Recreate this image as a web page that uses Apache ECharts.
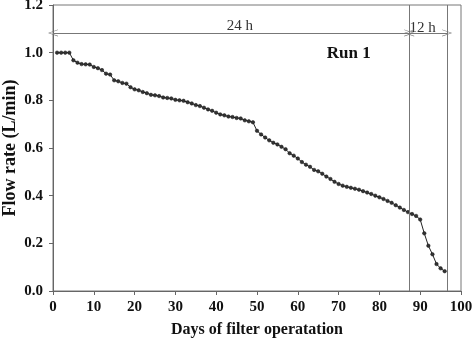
<!DOCTYPE html>
<html>
<head>
<meta charset="utf-8">
<script src="https://cdn.jsdelivr.net/npm/echarts@6/dist/echarts.min.js"></script>
<style>html,body{margin:0;padding:0;background:#fff}#c{width:474px;height:357px}</style>
</head>
<body>
<div id="c"></div>
<script>
const days = [1,2,3,4,5,6,7,8,9,10,11,12,13,14,15,16,17,18,19,20,21,22,23,24,25,26,27,28,29,30,31,32,33,34,35,36,37,38,39,40,41,42,43,44,45,46,47,48,49,50,51,52,53,54,55,56,57,58,59,60,61,62,63,64,65,66,67,68,69,70,71,72,73,74,75,76,77,78,79,80,81,82,83,84,85,86,87,88,89,90,91,92,93,94,95,96];
const flowRate = [1.00,1.00,1.00,1.00,0.968,0.958,0.952,0.951,0.950,0.940,0.935,0.927,0.912,0.908,0.884,0.880,0.873,0.870,0.855,0.846,0.842,0.835,0.830,0.823,0.821,0.818,0.812,0.810,0.808,0.802,0.800,0.798,0.792,0.787,0.780,0.776,0.769,0.762,0.756,0.748,0.741,0.737,0.732,0.730,0.726,0.724,0.716,0.712,0.708,0.672,0.657,0.644,0.632,0.622,0.615,0.605,0.595,0.578,0.568,0.556,0.541,0.530,0.521,0.508,0.502,0.492,0.480,0.470,0.458,0.449,0.442,0.437,0.433,0.429,0.425,0.419,0.413,0.407,0.400,0.393,0.386,0.378,0.370,0.360,0.350,0.340,0.331,0.323,0.315,0.300,0.242,0.190,0.154,0.113,0.095,0.083];
const xTicks = [0,10,20,30,40,50,60,70,80,90,100];
const yTicks = [0.0,0.2,0.4,0.6,0.8,1.0,1.2];
const phaseBounds = [0, 87.3, 96.6];
const phaseLabels = ['24 h', '12 h'];
const phaseLabelX = [45.8, 90.6];
const arrowLevel = 1.083;
const runLabel = 'Run 1';
const runLabelPos = [72.5, 0.995];

const chart = echarts.init(document.getElementById('c'), null, {renderer:'canvas'});
const serif = '"Liberation Serif", "DejaVu Serif", serif';
const axisColor = '#666';
const chev = 'path://M0,10 L5,0 L10,10 L9.2,10 L5,1.6 L0.8,10 Z';

const arrowLines = [];
for (let i = 0; i < phaseLabels.length; i++) {
  arrowLines.push([
    {coord:[phaseBounds[i], arrowLevel], symbol: chev, symbolSize:[7,10]},
    {coord:[phaseBounds[i+1], arrowLevel], symbol: chev, symbolSize:[7,10]}
  ]);
}
const vLines = phaseBounds.slice(1).map(v => ({xAxis: v}));

chart.setOption({
  animation:false,
  grid:{left:53, right:13, top:5, bottom:66, outerBoundsMode:'none', containLabel:false, show:true, borderColor:'#777', borderWidth:1},
  xAxis:{
    type:'value', min:0, max:100, interval:10,
    name:'Days of filter operatation', nameLocation:'middle', nameGap:31, nameMoveOverlap:false,
    nameTextStyle:{fontFamily:serif, fontWeight:'bold', fontSize:16, color:'#111'},
    axisLine:{lineStyle:{color:axisColor, width:1}},
    axisTick:{length:4, lineStyle:{color:axisColor}},
    axisLabel:{fontFamily:serif, fontWeight:'bold', fontSize:15, color:'#111', margin:9,
      formatter: v => xTicks.includes(v) ? String(v) : ''},
    splitLine:{show:false}
  },
  yAxis:{
    type:'value', min:0, max:1.2, interval:0.2,
    name:'Flow rate (L/min)', nameLocation:'middle', nameGap:34, nameMoveOverlap:false,
    nameTextStyle:{fontFamily:serif, fontWeight:'bold', fontSize:18, color:'#111'},
    axisLine:{show:true, lineStyle:{color:axisColor, width:1}},
    axisTick:{show:true, length:4, lineStyle:{color:axisColor}},
    axisLabel:{fontFamily:serif, fontWeight:'bold', fontSize:15, color:'#111', margin:10,
      formatter: v => { const t = yTicks.find(k => Math.abs(k - v) < 1e-6); return t === undefined ? '' : t.toFixed(1); }},
    splitLine:{show:false}
  },
  series:[{
    type:'line',
    data: days.map((d,i) => [d, flowRate[i]]),
    symbol:'circle', symbolSize:3.5,
    lineStyle:{color:'#222', width:1},
    itemStyle:{color:'#333', borderColor:'#111', borderWidth:0.5},
    markLine:{
      silent:true, animation:false,
      symbol:['none','none'],
      label:{show:false},
      lineStyle:{color:'#777', width:1, type:'solid'},
      itemStyle:{color:'#777'},
      data: vLines.concat(arrowLines)
    }
  }],
  graphic:[]
});

const p24 = chart.convertToPixel({gridIndex:0}, [phaseLabelX[0], arrowLevel]);
const p12 = chart.convertToPixel({gridIndex:0}, [phaseLabelX[1], arrowLevel]);
const pRun = chart.convertToPixel({gridIndex:0}, runLabelPos);
chart.setOption({graphic:[
  {type:'text', x:p24[0], y:p24[1]+1, style:{text:phaseLabels[0], font:'15px '+serif, fill:'#333', textAlign:'center', textVerticalAlign:'bottom'}},
  {type:'text', x:p12[0], y:p12[1]+3, style:{text:phaseLabels[1], font:'15px '+serif, fill:'#333', textAlign:'center', textVerticalAlign:'bottom'}},
  {type:'text', x:pRun[0], y:pRun[1], style:{text:runLabel, font:'bold 17px '+serif, fill:'#111', textAlign:'center', textVerticalAlign:'middle'}}
]});
</script>
</body>
</html>
